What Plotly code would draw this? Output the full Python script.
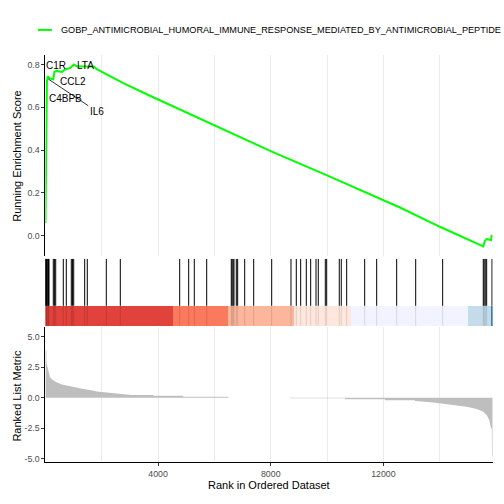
import plotly.graph_objects as go

# gene set name shown in the legend
gene_set = "GOBP_ANTIMICROBIAL_HUMORAL_IMMUNE_RESPONSE_MEDIATED_BY_ANTIMICROBIAL_PEPTIDE"
n_genes = 15880

# running enrichment score (rank, score)
es_rank = [1, 20, 35, 55, 80, 160, 280, 320, 400, 590, 680, 780, 900, 1010, 1130,
           1480, 1720, 1840, 2080, 2766, 3713, 6000, 8000, 10000, 12588, 14007,
           15428, 15546, 15606, 15666, 15820, 15845, 15880]
es_score = [0.06, 0.40, 0.56, 0.72, 0.745, 0.735, 0.73, 0.765, 0.77, 0.765, 0.775,
            0.78, 0.785, 0.80, 0.79, 0.79, 0.79, 0.777, 0.76, 0.713, 0.654, 0.515,
            0.395, 0.282, 0.132, 0.042, -0.043, -0.05, -0.023, -0.015, -0.02, 0.0, 0.0]

# ranks of the gene set members (hit ticks)
hits = [1, 12, 25, 40, 60, 85, 110, 128, 280, 320, 366, 635, 742, 919, 960, 1005,
        1395, 1487, 2162, 2659, 4768, 5087, 5286, 5726, 6599, 6630, 6665, 6695,
        6777, 6826, 7075, 7395, 8034, 8719, 8907, 9063, 9262, 9418, 9607, 9688,
        9937, 9986, 10433, 10504, 10696, 11335, 11761, 12471, 13146, 14104,
        15545, 15575, 15616, 15666, 15855]

# ranked list metric (rank, value)
metric_rank = [1, 30, 40, 57, 103, 138, 163, 224, 280, 341, 458, 579, 756, 990,
               1345, 1583, 1821, 2176, 2826, 3064, 3830, 3830, 4895, 4895, 6493,
               6493, 8683, 8683, 10635, 10635, 12055, 12055, 13120, 13120, 13770,
               14363, 14956, 15311, 15545, 15666, 15758, 15808, 15850, 15855, 15880]
metric_value = [3.94, 3.94, 2.9, 2.64, 2.23, 1.96, 1.68, 1.55, 1.41, 1.33, 1.22,
                1.09, 1.0, 0.87, 0.73, 0.65, 0.52, 0.43, 0.33, 0.24, 0.24, 0.16,
                0.16, 0.08, 0.08, 0, 0, -0.03, -0.03, -0.11, -0.11, -0.19, -0.19,
                -0.27, -0.38, -0.54, -0.73, -0.92, -1.14, -1.41, -1.82, -2.36,
                -2.6, -4.81, -4.81]

# colour band: bin edges along the rank and bin colours
band_edges = [0, 4536, 6500, 8857, 10857, 15000, 15855, 15868, 15880]
band_colors = ["#E1423C", "#FB795C", "#FCB69C", "#FEE8DD", "#F1F4FF", "#C4DBE9",
               "#7AB6DA", "#3F86BF"]

# leading edge genes labelled on the curve
genes = ["C1R", "LTA", "CCL2", "C4BPB", "IL6"]

FONT = "Liberation Sans, Arial, sans-serif"
W = H = 504
x_dom = [45.4 / W, 492.7 / W]
top_dom = [1 - 256.6 / H, 1 - 55.6 / H]
hit_dom = [1 - 328.3 / H, 1 - 256.6 / H]
met_dom = [1 - 464 / H, 1 - 328.3 / H]

fig = go.Figure()

# running ES
fig.add_trace(go.Scatter(x=es_rank, y=es_score, mode="lines",
                         line=dict(color="#00FF00", width=2),
                         xaxis="x", yaxis="y", showlegend=False, hoverinfo="skip"))

# hit ticks
hx, hy = [], []
for r in hits:
    hx += [r, r, None]
    hy += [0, 1, None]
fig.add_trace(go.Scatter(x=hx, y=hy, mode="lines", line=dict(color="black", width=1),
                         xaxis="x2", yaxis="y2", showlegend=False, hoverinfo="skip"))

# colour band
centers = [(a + b) / 2 for a, b in zip(band_edges[:-1], band_edges[1:])]
widths = [b - a for a, b in zip(band_edges[:-1], band_edges[1:])]
fig.add_trace(go.Bar(x=centers, y=[0.4255] * len(centers), base=-0.4255, width=widths,
                     marker=dict(color=band_colors, line=dict(width=0)),
                     xaxis="x2", yaxis="y2", showlegend=False, hoverinfo="skip"))
# faint hit marks inside the band
bx, by = [], []
for r in hits:
    bx += [r, r, None]
    by += [-0.4255, 0, None]
fig.add_trace(go.Scatter(x=bx, y=by, mode="lines", line=dict(color="rgba(0,0,0,0.12)", width=1),
                         xaxis="x2", yaxis="y2", showlegend=False, hoverinfo="skip"))

# ranked list metric
fig.add_trace(go.Scatter(x=metric_rank, y=metric_value, mode="lines", fill="tozeroy",
                         fillcolor="#BEBEBE", line=dict(width=0, color="#BEBEBE"),
                         xaxis="x3", yaxis="y3", showlegend=False, hoverinfo="skip"))

grid = "#EBEBEB"
tickfont = dict(family=FONT, size=8.8, color="#4D4D4D")
minor_vals = [2000, 6000, 10000, 14000]

fig.update_layout(
    width=W, height=H, margin=dict(l=0, r=0, t=0, b=0),
    paper_bgcolor="white", plot_bgcolor="white",
    font=dict(family=FONT, color="black"),
    bargap=0,
    xaxis=dict(domain=x_dom, range=[0, n_genes], showticklabels=False, ticks="",
               tickvals=list(range(2000, 16000, 2000)), showgrid=True, gridcolor=grid,
               gridwidth=1, zeroline=False, showline=False, anchor="y"),
    yaxis=dict(domain=top_dom, range=[-0.0925, 0.8425], tickvals=[0, 0.2, 0.4, 0.6, 0.8],
               ticktext=["0.0", "0.2", "0.4", "0.6", "0.8"], tickfont=tickfont,
               ticks="outside", ticklen=3, tickcolor="#333333", showgrid=False,
               zeroline=False, showline=True, linecolor="black", linewidth=1, anchor="x"),
    xaxis2=dict(domain=x_dom, range=[0, n_genes], visible=False, anchor="y2"),
    yaxis2=dict(domain=hit_dom, range=[-0.453, 1.072], visible=False, anchor="x2"),
    xaxis3=dict(domain=x_dom, range=[0, n_genes], tickvals=[4000, 8000, 12000],
                ticktext=["4000", "8000", "12000"], tickfont=tickfont, ticks="outside",
                ticklen=3, tickcolor="#333333", showgrid=True, gridcolor=grid, gridwidth=1,
                minor=dict(tickvals=minor_vals, showgrid=True, gridcolor=grid, gridwidth=1, ticks=""),
                zeroline=False, showline=True, linecolor="black", linewidth=1, anchor="y3"),
    yaxis3=dict(domain=met_dom, range=[-5.27, 5.80], tickvals=[-5, -2.5, 0, 2.5, 5],
                ticktext=["-5.0", "-2.5", "0.0", "2.5", "5.0"], tickfont=tickfont,
                ticks="outside", ticklen=3, tickcolor="#333333", showgrid=False,
                zeroline=False, showline=True, linecolor="black", linewidth=1, anchor="x3"),
)

# gene labels (repelled positions as seen in the reference)
label_pos = {"C1R": (359, 0.797), "LTA": (1424, 0.797), "CCL2": (980, 0.72),
             "C4BPB": (731, 0.641)}
for g in genes[:4]:
    x, y = label_pos[g]
    fig.add_annotation(x=x, y=y, xref="x", yref="y", text=g, showarrow=False,
                       xanchor="center", yanchor="middle",
                       font=dict(family=FONT, size=10, color="black"))
fig.add_annotation(x=103, y=0.732, xref="x", yref="y", ax=1821, ay=0.581,
                   axref="x", ayref="y", text=genes[4], showarrow=True, arrowhead=0,
                   arrowwidth=0.8, arrowcolor="black",
                   font=dict(family=FONT, size=10, color="black"))

# axis titles
title_font = dict(family=FONT, size=11, color="black")
fig.add_annotation(x=16.7 / W, y=1 - 156.7 / H, xref="paper", yref="paper",
                   xanchor="center", yanchor="middle",
                   text="Running Enrichment Score", textangle=-90, showarrow=False,
                   font=title_font)
fig.add_annotation(x=16.7 / W, y=1 - 397.5 / H, xref="paper", yref="paper",
                   xanchor="center", yanchor="middle",
                   text="Ranked List Metric", textangle=-90, showarrow=False,
                   font=title_font)
fig.add_annotation(x=269 / W, y=1 - 486.7 / H, xref="paper", yref="paper",
                   xanchor="center", yanchor="middle",
                   text="Rank in Ordered Dataset", showarrow=False, font=title_font)

# legend key
fig.add_shape(type="line", xref="paper", yref="paper", x0=38 / W, x1=52 / W,
              y0=1 - 30 / H, y1=1 - 30 / H, line=dict(color="#00FF00", width=2))
fig.add_annotation(x=59 / W, y=1 - 30 / H, xref="paper", yref="paper", text=gene_set,
                   xanchor="left", yanchor="middle", showarrow=False,
                   font=dict(family=FONT, size=9.15, color="black"))

# page body has a default 8px margin; drop it so the figure sits at the window origin
fig.write_html("out.html", config={"displayModeBar": False},
               post_script="document.body.style.margin='0';")
